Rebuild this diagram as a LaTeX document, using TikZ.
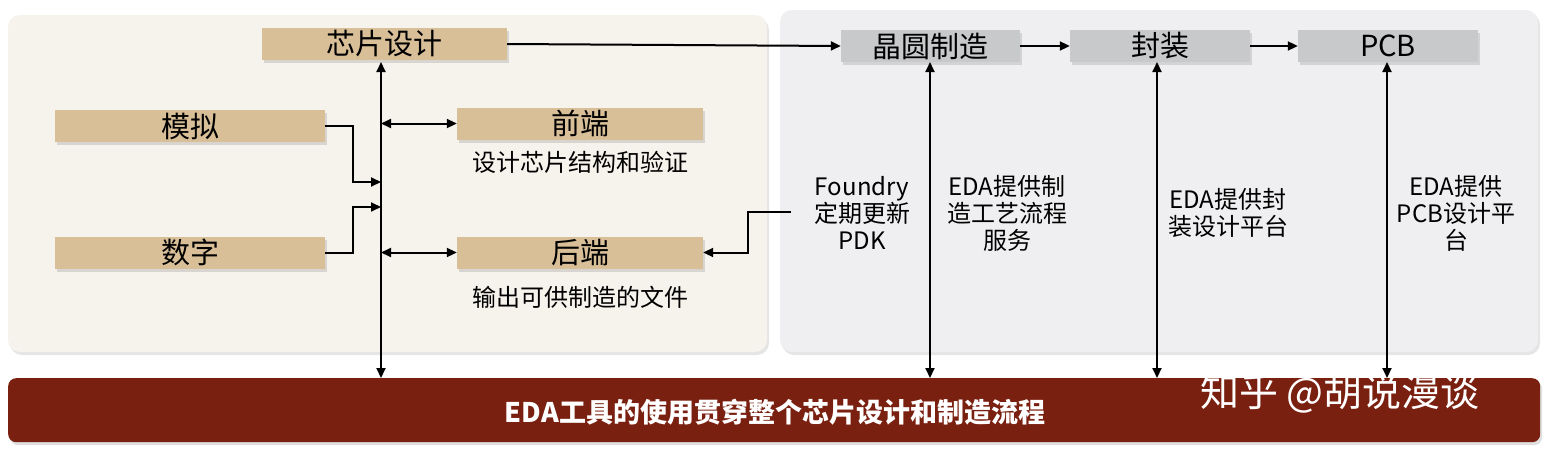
\documentclass[tikz,border=0pt]{standalone}
\usepackage{fontspec}
\setmainfont{Noto Sans CJK SC}
\usetikzlibrary{arrows.meta,shadows}
\definecolor{tan}{HTML}{D8BF98}
\definecolor{gbox}{HTML}{C8C9CB}
\definecolor{lpanel}{HTML}{F6F2EC}
\definecolor{rpanel}{HTML}{EFEFF1}
\definecolor{bar}{HTML}{7A2010}
\tikzset{
 box/.style={minimum height=32pt,inner sep=0pt,font=\fontsize{29}{30}\selectfont,drop shadow={shadow xshift=2pt,shadow yshift=-3pt,opacity=0.25}},
 tanbox/.style={box,fill=tan},
 graybox/.style={box,fill=gbox},
 panel/.style={rounded corners=12pt,drop shadow={shadow xshift=2pt,shadow yshift=-3pt,opacity=0.2}},
 captxt/.style={font=\fontsize{24}{27}\selectfont,align=center},
 con/.style={line width=2pt,-{Triangle[length=10pt,width=9pt]}},
 dcon/.style={line width=2pt,{Triangle[length=10pt,width=9pt]}-{Triangle[length=10pt,width=9pt]}},
}
\begin{document}
\begin{tikzpicture}[x=1pt,y=-1pt]
\useasboundingbox[fill=white] (0,0) rectangle (1551,458);
\fill[lpanel,panel] (8,15) rectangle (767,352);
\fill[rpanel,panel] (780,10) rectangle (1538,352);
\node[fill=bar,rounded corners=8pt,minimum width=1532pt,minimum height=64pt,anchor=north west,drop shadow={shadow xshift=2pt,shadow yshift=-3pt,opacity=0.25}] (eda) at (8,378) {};
\node[text=white,font=\bfseries\fontsize{27}{30}\selectfont] (edat) at (775,412) {EDA工具的使用贯穿整个芯片设计和制造流程};
\node[text=white,font=\fontsize{39}{42}\selectfont] (wm) at (1340,393) {知乎 @胡说漫谈};

\node[tanbox,minimum width=245pt] (xp) at (384.5,44) {芯片设计};
\node[tanbox,minimum width=270pt] (mn) at (190,126) {模拟};
\node[tanbox,minimum width=270pt] (sz) at (190,252.5) {数字};
\node[tanbox,minimum width=246pt] (qd) at (580,123.5) {前端};
\node[tanbox,minimum width=246pt] (hd) at (580,252.5) {后端};
\node[captxt] (qdc) at (580,162) {设计芯片结构和验证};
\node[captxt] (hdc) at (580,297) {输出可供制造的文件};

\node[graybox,minimum width=179pt] (jy) at (930.5,46) {晶圆制造};
\node[graybox,minimum width=180pt] (fz) at (1160,46) {封装};
\node[graybox,minimum width=180pt] (pcb) at (1388,46) {PCB};

\node[captxt] (fd) at (862,213) {Foundry\\定期更新\\PDK};
\node[captxt] (t1) at (1007,213) {EDA提供制\\造工艺流程\\服务};
\node[captxt] (t2) at (1228,213) {EDA提供封\\装设计平台};
\node[captxt] (t3) at (1456,213) {EDA提供\\PCB设计平\\台};

\coordinate (vtop) at (381,62);
\coordinate (vbot) at (381,378);
\draw[dcon] (vtop) -- (vbot);
\draw[con] (mn.east) -- (353,126) -- (353,182) -- (381,182);
\draw[con] (sz.east) -- (353,252.5) -- (353,207) -- (381,207);
\draw[dcon] (381,123.5) -- (qd.west);
\draw[dcon] (381,252.5) -- (hd.west);
\coordinate (pdk) at (791,212);
\draw[con] (pdk) -- (748,212) |- (hd.east);

\draw[con] (xp.east) -- (jy.west);
\draw[con] (jy.east) -- (fz.west);
\draw[con] (fz.east) -- (pcb.west);

\draw[dcon] (930,62) -- (930,378);
\draw[dcon] (1157,62) -- (1157,378);
\draw[dcon] (1387,62) -- (1387,378);
\end{tikzpicture}
\end{document}
